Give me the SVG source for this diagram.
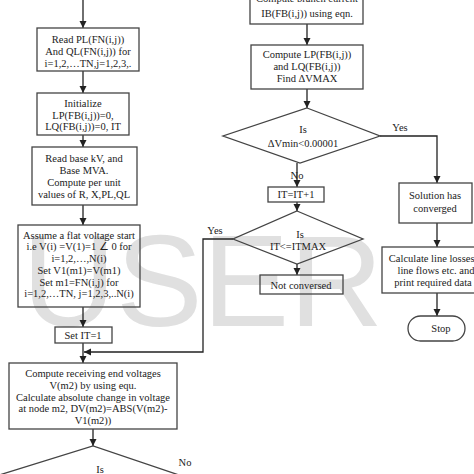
<svg xmlns="http://www.w3.org/2000/svg" width="474" height="474" viewBox="0 0 474 474">
<defs>
<marker id="ah" markerWidth="8" markerHeight="8" refX="7" refY="4" orient="auto" markerUnits="userSpaceOnUse">
<path d="M0,0.5 L7,4 L0,7.5 Z" fill="#222"/>
</marker>
<style>
.b{fill:none;stroke:#444;stroke-width:1.3}
.c{fill:none;stroke:#222;stroke-width:1.3}
.t{font-family:"Liberation Serif","Times New Roman",serif;font-size:10.5px;fill:#222;text-anchor:middle}
.wm{font-family:"Liberation Sans",Arial,sans-serif;font-size:130px;fill:#d9d9d9;opacity:0.8}
</style>
</defs>
<rect width="474" height="474" fill="#fff"/>
<text class="wm" x="22" y="326">USER</text>

<g id="connectors">
<line class="c" x1="83" y1="0" x2="83" y2="28" marker-end="url(#ah)"/>
<line class="c" x1="83" y1="71" x2="83" y2="93" marker-end="url(#ah)"/>
<line class="c" x1="83" y1="135" x2="83" y2="147" marker-end="url(#ah)"/>
<line class="c" x1="83" y1="205" x2="83" y2="225" marker-end="url(#ah)"/>
<line class="c" x1="83" y1="307" x2="83" y2="327" marker-end="url(#ah)"/>
<line class="c" x1="83" y1="343" x2="83" y2="363" marker-end="url(#ah)"/>
<polyline class="c" points="233,239 203,239 203,352 84,352" marker-end="url(#ah)"/>
<line class="c" x1="93" y1="429" x2="93" y2="446" marker-end="url(#ah)"/>
<line class="c" x1="307" y1="24" x2="307" y2="45" marker-end="url(#ah)"/>
<line class="c" x1="307" y1="89" x2="307" y2="108" marker-end="url(#ah)"/>
<line class="c" x1="297" y1="163" x2="297" y2="187" marker-end="url(#ah)"/>
<polyline class="c" points="380,136 437,136 437,183" marker-end="url(#ah)"/>
<line class="c" x1="297" y1="202" x2="297" y2="211" marker-end="url(#ah)"/>
<line class="c" x1="297" y1="264" x2="297" y2="275" marker-end="url(#ah)"/>
<line class="c" x1="437" y1="223" x2="437" y2="247" marker-end="url(#ah)"/>
<line class="c" x1="437" y1="293" x2="437" y2="316" marker-end="url(#ah)"/>
<text class="t" x="215" y="234">Yes</text>
<text class="t" x="400" y="131">Yes</text>
<text class="t" x="297" y="179">No</text>
<text class="t" x="185" y="466">No</text>
</g>

<g id="read-pl">
<rect class="b" x="37" y="28" width="102" height="43"/>
<text class="t" x="88" y="43">Read PL(FN(i,j))</text>
<text class="t" x="88" y="55">And QL(FN(i,j)) for</text>
<text class="t" x="88" y="67">i=1,2,…TN,j=1,2,3,.</text>
</g>

<g id="initialize">
<rect class="b" x="37" y="93" width="92" height="42"/>
<text class="t" x="83" y="107">Initialize</text>
<text class="t" x="83" y="119">LP(FB(i,j))=0,</text>
<text class="t" x="83" y="130">LQ(FB(i,j))=0, IT</text>
</g>

<g id="read-base">
<rect class="b" x="32" y="147" width="105" height="58"/>
<text class="t" x="84" y="162">Read base kV, and</text>
<text class="t" x="84" y="174">Base MVA.</text>
<text class="t" x="84" y="186">Compute per unit</text>
<text class="t" x="84" y="198">values of R, X,PL,QL</text>
</g>

<g id="flat-start">
<rect class="b" x="18" y="225" width="122" height="82"/>
<text class="t" x="79" y="239">Assume a flat voltage start</text>
<text class="t" x="79" y="250">i.e V(i) =V(1)=1 ∠ 0 for</text>
<text class="t" x="79" y="262">i=1,2,…,N(i)</text>
<text class="t" x="79" y="274">Set  V1(m1)=V(m1)</text>
<text class="t" x="79" y="286">Set m1=FN(i,j)  for</text>
<text class="t" x="79" y="297">i=1,2,…TN, j=1,2,3,..N(i)</text>
</g>

<g id="set-it">
<rect class="b" x="55" y="327" width="57" height="16"/>
<text class="t" x="83" y="339">Set IT=1</text>
</g>

<g id="compute-v">
<rect class="b" x="9" y="363" width="168" height="66"/>
<text class="t" x="93" y="377">Compute receiving end voltages</text>
<text class="t" x="93" y="389">V(m2) by using equ.</text>
<text class="t" x="93" y="401">Calculate absolute change in voltage</text>
<text class="t" x="93" y="412">at node m2, DV(m2)=ABS(V(m2)-</text>
<text class="t" x="93" y="424">V1(m2))</text>
</g>

<g id="dec-dv">
<polyline class="b" points="-4,476 93,446 179,475"/>
<text class="t" x="100" y="473">Is</text>
</g>

<g id="compute-ib">
<rect class="b" x="250" y="-20" width="113" height="44"/>
<text class="t" x="307" y="2">Compute branch current</text>
<text class="t" x="307" y="17">IB(FB(i,j)) using eqn.</text>
</g>

<g id="compute-lp">
<rect class="b" x="251" y="45" width="112" height="44"/>
<text class="t" x="307" y="58">Compute LP(FB(i,j))</text>
<text class="t" x="307" y="70">and LQ(FB(i,j))</text>
<text class="t" x="307" y="82">Find ΔVMAX</text>
</g>

<g id="dec-vmin">
<polygon class="b" points="307,108 380,136 300,163 223,136"/>
<text class="t" x="303" y="133">Is</text>
<text class="t" x="303" y="147">ΔVmin&lt;0.00001</text>
</g>

<g id="it-inc">
<rect class="b" x="268" y="187" width="56" height="15"/>
<text class="t" x="296" y="198">IT=IT+1</text>
</g>

<g id="dec-itmax">
<polygon class="b" points="297,211 363,239 297,264 233,239"/>
<text class="t" x="300" y="238">Is</text>
<text class="t" x="298" y="250">IT&lt;=ITMAX</text>
</g>

<g id="not-conversed">
<rect class="b" x="260" y="275" width="83" height="19"/>
<text class="t" x="301" y="289">Not conversed</text>
</g>

<g id="converged">
<rect class="b" x="399" y="183" width="73" height="40"/>
<text class="t" x="435" y="199">Solution has</text>
<text class="t" x="435" y="212">converged</text>
</g>

<g id="calc-losses">
<rect class="b" x="382" y="247" width="112" height="46"/>
<text class="t" x="433" y="262">Calculate line losses,</text>
<text class="t" x="436" y="274">line flows etc. and</text>
<text class="t" x="433" y="286">print required data</text>
</g>

<g id="stop">
<rect class="b" x="408" y="316" width="57" height="25" rx="12.5"/>
<text class="t" x="441" y="332">Stop</text>
</g>
</svg>
